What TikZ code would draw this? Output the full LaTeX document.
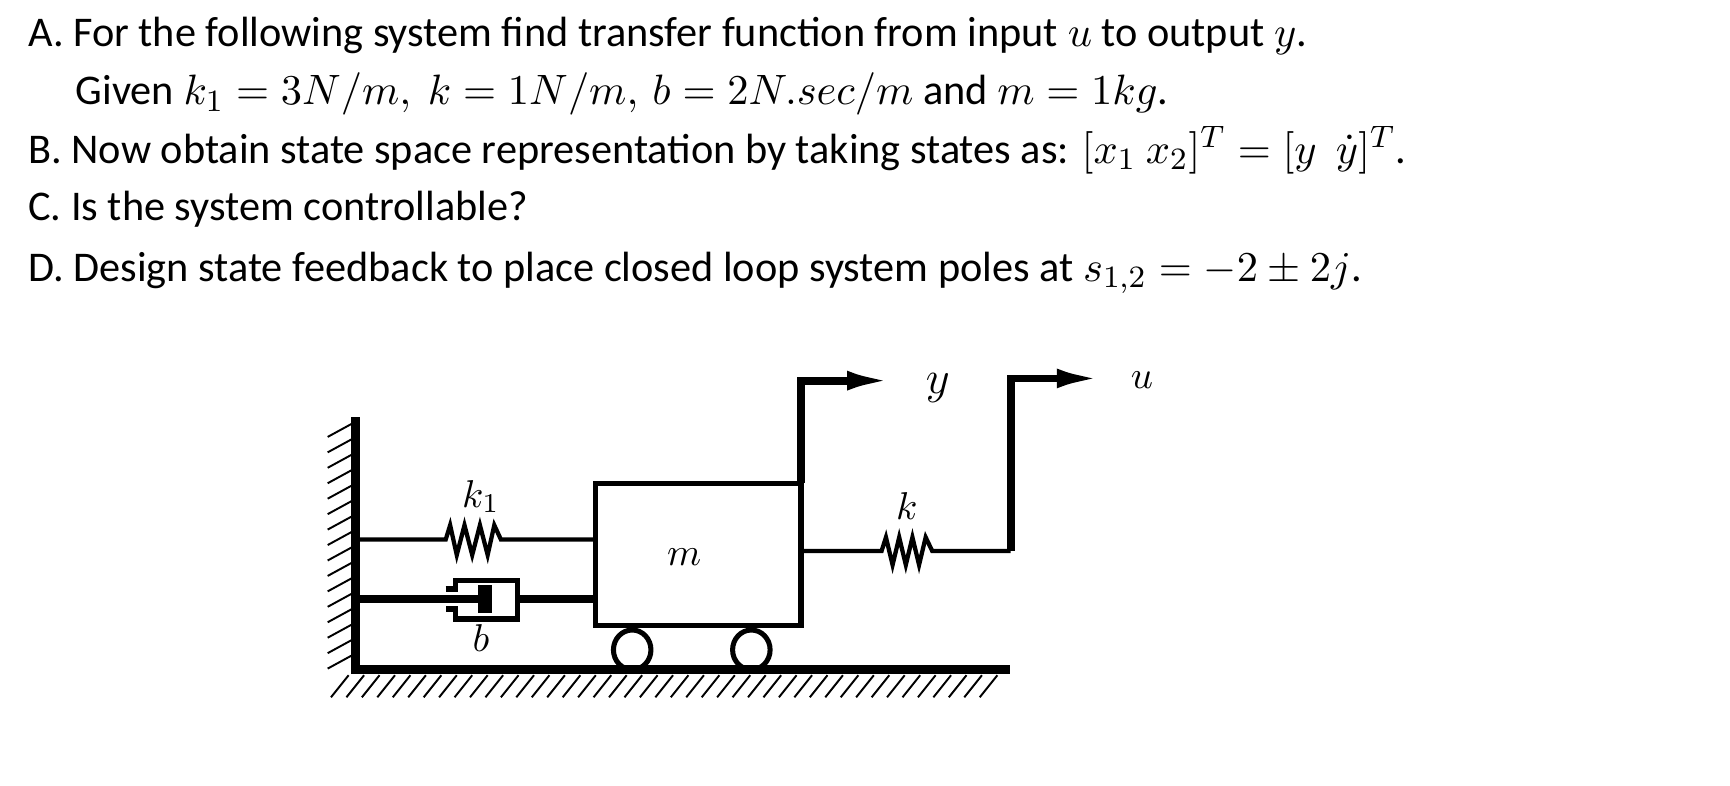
\documentclass[tikz,border=0pt]{standalone}
\usepackage{fontspec}
\setmainfont{Carlito}
\usetikzlibrary{arrows.meta}
\begin{document}
\begin{tikzpicture}[x=0.01cm,y=-0.01cm,
  txt/.style={anchor=base west,inner sep=0pt,font=\fontsize{10.9pt}{13pt}\selectfont},
  lbl/.style={inner sep=0pt,font=\fontsize{10pt}{12pt}\selectfont},
  thin line/.style={line width=1.1pt},
  thick line/.style={line width=2pt},
  hatch/.style={line width=0.5pt}]
\useasboundingbox (0,0) rectangle (1568,712);
% text
\node[txt] (qa) at (25,42) {A. For the following system find transfer function from input $u$ to output $y$.};
\node[txt] (qg) at (68,95) {Given $k_1=3N/m,\ k=1N/m,\, b=2N.sec/m$ and $m=1kg$.};
\node[txt] (qb) at (25,148) {B. Now obtain state space representation by taking states as: $[x_1\ x_2]^T=[y\ \ \dot y]^T$.};
\node[txt] (qc) at (25,200) {C. Is the system controllable?};
\node[txt] (qd) at (25,255) {D. Design state feedback to place closed loop system poles at $s_{1,2}=-2\pm2j$.};
% wall and ground
\draw[line width=2.2pt] (322,378) -- (322,607) -- (915,607);
\foreach \yy in {384,398,...,600} \draw[hatch] (297,\yy+12) -- (319,\yy);
\foreach \xx in {300,314,...,900} \draw[hatch] (\xx,632) -- (\xx+16,612);
% mass
\draw[line width=1.3pt] (540,438) rectangle (726,567);
\node[lbl] (ml) at (620,505) {$m$};
% wheels
\draw[line width=1.3pt] (573,589) ellipse [x radius=17,y radius=18];
\draw[line width=1.3pt] (681,589) ellipse [x radius=17,y radius=18];
% spring k1
\draw[thin line] (322,489) -- (404,489) -- (408,476) -- (414,503) -- (421,476) -- (428,503) -- (435,476) -- (442,503) -- (448,476) -- (454,489) -- (540,489);
\node[lbl] (k1l) at (436,450) {$k_1$};
% damper
\draw[thick line] (322,543) -- (433,543);
\fill (433,530) rectangle (446,556);
\draw[line width=1.4pt] (404,534) -- (413,534) -- (413,526) -- (469,526) -- (469,561) -- (413,561) -- (413,552) -- (404,552);
\draw[thick line] (469,543) -- (540,543);
\node[lbl] (bl) at (436,578) {$b$};
% spring k
\draw[thin line] (726,499.5) -- (799,499.5) -- (803,487) -- (809,512) -- (815,487) -- (821,512) -- (827,487) -- (833,512) -- (839,487) -- (845,499.5) -- (916,499.5);
\node[lbl] (kl) at (822,459) {$k$};
% u
\draw[thick line,-{Latex[length=12pt,width=5pt]}] (916,499.5) -- (916,343) -- (1000,343);
\node[lbl] (ul) at (1035,345) {$u$};
% y
\draw[thick line,-{Latex[length=12pt,width=5pt]}] (726,438) -- (726,345) -- (810,345);
\node[lbl,font=\fontsize{12pt}{14pt}\selectfont] (yl) at (850,352) {$y$};
\end{tikzpicture}
\end{document}
